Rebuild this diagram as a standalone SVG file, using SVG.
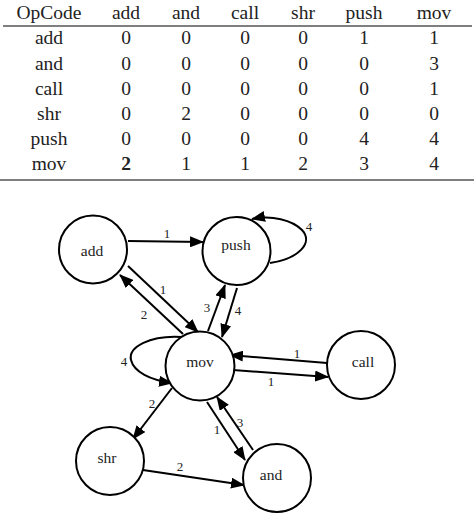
<svg xmlns="http://www.w3.org/2000/svg" width="474" height="514" viewBox="0 0 474 514">
<defs>
<marker id="ah" markerUnits="userSpaceOnUse" markerWidth="14" markerHeight="11" refX="13" refY="5.5" orient="auto" viewBox="0 0 14 11">
<path d="M0,0 L14,5.5 L0,11 z" fill="#000"/>
</marker>
</defs>
<rect width="474" height="514" fill="#fff"/>
<g id="table">
<line x1="3" y1="26" x2="472" y2="26" stroke="#555" stroke-width="1.5"/>
<line x1="0" y1="180" x2="474" y2="180" stroke="#555" stroke-width="1.5"/>
<text font-family="Liberation Serif" font-size="19.5" fill="#222" text-anchor="middle" x="49" y="19">OpCode</text>
<text font-family="Liberation Serif" font-size="19.5" fill="#222" text-anchor="middle" x="126" y="19">add</text>
<text font-family="Liberation Serif" font-size="19.5" fill="#222" text-anchor="middle" x="186" y="19">and</text>
<text font-family="Liberation Serif" font-size="19.5" fill="#222" text-anchor="middle" x="245" y="19">call</text>
<text font-family="Liberation Serif" font-size="19.5" fill="#222" text-anchor="middle" x="303" y="19">shr</text>
<text font-family="Liberation Serif" font-size="19.5" fill="#222" text-anchor="middle" x="364" y="19">push</text>
<text font-family="Liberation Serif" font-size="19.5" fill="#222" text-anchor="middle" x="434" y="19">mov</text>
<text font-family="Liberation Serif" font-size="19.5" fill="#222" text-anchor="middle" x="49" y="44">add</text>
<text font-family="Liberation Serif" font-size="19.5" fill="#222" text-anchor="middle" x="126" y="44">0</text>
<text font-family="Liberation Serif" font-size="19.5" fill="#222" text-anchor="middle" x="186" y="44">0</text>
<text font-family="Liberation Serif" font-size="19.5" fill="#222" text-anchor="middle" x="245" y="44">0</text>
<text font-family="Liberation Serif" font-size="19.5" fill="#222" text-anchor="middle" x="303" y="44">0</text>
<text font-family="Liberation Serif" font-size="19.5" fill="#222" text-anchor="middle" x="364" y="44">1</text>
<text font-family="Liberation Serif" font-size="19.5" fill="#222" text-anchor="middle" x="434" y="44">1</text>
<text font-family="Liberation Serif" font-size="19.5" fill="#222" text-anchor="middle" x="49" y="69.5">and</text>
<text font-family="Liberation Serif" font-size="19.5" fill="#222" text-anchor="middle" x="126" y="69.5">0</text>
<text font-family="Liberation Serif" font-size="19.5" fill="#222" text-anchor="middle" x="186" y="69.5">0</text>
<text font-family="Liberation Serif" font-size="19.5" fill="#222" text-anchor="middle" x="245" y="69.5">0</text>
<text font-family="Liberation Serif" font-size="19.5" fill="#222" text-anchor="middle" x="303" y="69.5">0</text>
<text font-family="Liberation Serif" font-size="19.5" fill="#222" text-anchor="middle" x="364" y="69.5">0</text>
<text font-family="Liberation Serif" font-size="19.5" fill="#222" text-anchor="middle" x="434" y="69.5">3</text>
<text font-family="Liberation Serif" font-size="19.5" fill="#222" text-anchor="middle" x="49" y="94.5">call</text>
<text font-family="Liberation Serif" font-size="19.5" fill="#222" text-anchor="middle" x="126" y="94.5">0</text>
<text font-family="Liberation Serif" font-size="19.5" fill="#222" text-anchor="middle" x="186" y="94.5">0</text>
<text font-family="Liberation Serif" font-size="19.5" fill="#222" text-anchor="middle" x="245" y="94.5">0</text>
<text font-family="Liberation Serif" font-size="19.5" fill="#222" text-anchor="middle" x="303" y="94.5">0</text>
<text font-family="Liberation Serif" font-size="19.5" fill="#222" text-anchor="middle" x="364" y="94.5">0</text>
<text font-family="Liberation Serif" font-size="19.5" fill="#222" text-anchor="middle" x="434" y="94.5">1</text>
<text font-family="Liberation Serif" font-size="19.5" fill="#222" text-anchor="middle" x="49" y="120">shr</text>
<text font-family="Liberation Serif" font-size="19.5" fill="#222" text-anchor="middle" x="126" y="120">0</text>
<text font-family="Liberation Serif" font-size="19.5" fill="#222" text-anchor="middle" x="186" y="120">2</text>
<text font-family="Liberation Serif" font-size="19.5" fill="#222" text-anchor="middle" x="245" y="120">0</text>
<text font-family="Liberation Serif" font-size="19.5" fill="#222" text-anchor="middle" x="303" y="120">0</text>
<text font-family="Liberation Serif" font-size="19.5" fill="#222" text-anchor="middle" x="364" y="120">0</text>
<text font-family="Liberation Serif" font-size="19.5" fill="#222" text-anchor="middle" x="434" y="120">0</text>
<text font-family="Liberation Serif" font-size="19.5" fill="#222" text-anchor="middle" x="49" y="145">push</text>
<text font-family="Liberation Serif" font-size="19.5" fill="#222" text-anchor="middle" x="126" y="145">0</text>
<text font-family="Liberation Serif" font-size="19.5" fill="#222" text-anchor="middle" x="186" y="145">0</text>
<text font-family="Liberation Serif" font-size="19.5" fill="#222" text-anchor="middle" x="245" y="145">0</text>
<text font-family="Liberation Serif" font-size="19.5" fill="#222" text-anchor="middle" x="303" y="145">0</text>
<text font-family="Liberation Serif" font-size="19.5" fill="#222" text-anchor="middle" x="364" y="145">4</text>
<text font-family="Liberation Serif" font-size="19.5" fill="#222" text-anchor="middle" x="434" y="145">4</text>
<text font-family="Liberation Serif" font-size="19.5" fill="#222" text-anchor="middle" x="49" y="170">mov</text>
<text font-family="Liberation Serif" font-size="19.5" fill="#222" text-anchor="middle" x="126" y="170" font-weight="bold">2</text>
<text font-family="Liberation Serif" font-size="19.5" fill="#222" text-anchor="middle" x="186" y="170">1</text>
<text font-family="Liberation Serif" font-size="19.5" fill="#222" text-anchor="middle" x="245" y="170">1</text>
<text font-family="Liberation Serif" font-size="19.5" fill="#222" text-anchor="middle" x="303" y="170">2</text>
<text font-family="Liberation Serif" font-size="19.5" fill="#222" text-anchor="middle" x="364" y="170">3</text>
<text font-family="Liberation Serif" font-size="19.5" fill="#222" text-anchor="middle" x="434" y="170">4</text>
</g>
<g id="connectors">
<g fill="none" stroke="#000" stroke-width="2" marker-end="url(#ah)">
<line x1="128" y1="241" x2="203" y2="242"/>
<path d="M270,263 C298,259 314,243 302,230 C292,220 272,215 252,219"/>
<line x1="183" y1="334" x2="120" y2="275"/>
<line x1="128" y1="266" x2="198" y2="332"/>
<line x1="208" y1="331" x2="225" y2="285"/>
<line x1="237" y1="288" x2="222" y2="337"/>
<path d="M182,337 C150,335 128,347 131,360 C134,372 150,380 172,383"/>
<line x1="327" y1="363" x2="230" y2="355"/>
<line x1="233" y1="370" x2="328" y2="377"/>
<line x1="172" y1="388" x2="133" y2="439"/>
<line x1="207" y1="402" x2="245" y2="460"/>
<line x1="253" y1="450" x2="217" y2="397"/>
<line x1="143" y1="470" x2="244" y2="485"/>
</g>
<text font-family="Liberation Serif" font-size="13" fill="#222" text-anchor="middle" x="167" y="237.5">1</text>
<text font-family="Liberation Serif" font-size="13" fill="#222" text-anchor="middle" x="309" y="230.5">4</text>
<text font-family="Liberation Serif" font-size="13" fill="#222" text-anchor="middle" x="144" y="318.5">2</text>
<text font-family="Liberation Serif" font-size="13" fill="#222" text-anchor="middle" x="163" y="293.5">1</text>
<text font-family="Liberation Serif" font-size="13" fill="#222" text-anchor="middle" x="207" y="311.5">3</text>
<text font-family="Liberation Serif" font-size="13" fill="#222" text-anchor="middle" x="238" y="314.5">4</text>
<text font-family="Liberation Serif" font-size="13" fill="#222" text-anchor="middle" x="124" y="365.5">4</text>
<text font-family="Liberation Serif" font-size="13" fill="#222" text-anchor="middle" x="297" y="357.5">1</text>
<text font-family="Liberation Serif" font-size="13" fill="#222" text-anchor="middle" x="271" y="385.5">1</text>
<text font-family="Liberation Serif" font-size="13" fill="#222" text-anchor="middle" x="152" y="407.5">2</text>
<text font-family="Liberation Serif" font-size="13" fill="#222" text-anchor="middle" x="217" y="433.5">1</text>
<text font-family="Liberation Serif" font-size="13" fill="#222" text-anchor="middle" x="240" y="426.5">3</text>
<text font-family="Liberation Serif" font-size="13" fill="#222" text-anchor="middle" x="180" y="470.5">2</text>
</g>
<g id="node-add"><circle cx="93" cy="249.5" r="34" fill="#fff" stroke="#000" stroke-width="2"/><text font-family="Liberation Serif" font-size="15.5" text-anchor="middle" x="92" y="256" fill="#222">add</text></g>
<g id="node-push"><circle cx="236.5" cy="251" r="34" fill="#fff" stroke="#000" stroke-width="2"/><text font-family="Liberation Serif" font-size="15.5" text-anchor="middle" x="236" y="250" fill="#222">push</text></g>
<g id="node-mov"><circle cx="200" cy="366" r="34.5" fill="#fff" stroke="#000" stroke-width="2"/><text font-family="Liberation Serif" font-size="15.5" text-anchor="middle" x="200" y="367" fill="#222">mov</text></g>
<g id="node-call"><circle cx="361" cy="365" r="34" fill="#fff" stroke="#000" stroke-width="2"/><text font-family="Liberation Serif" font-size="15.5" text-anchor="middle" x="363" y="367" fill="#222">call</text></g>
<g id="node-shr"><circle cx="110" cy="461" r="34" fill="#fff" stroke="#000" stroke-width="2"/><text font-family="Liberation Serif" font-size="15.5" text-anchor="middle" x="107" y="463" fill="#222">shr</text></g>
<g id="node-and"><circle cx="277" cy="478" r="34" fill="#fff" stroke="#000" stroke-width="2"/><text font-family="Liberation Serif" font-size="15.5" text-anchor="middle" x="271" y="480" fill="#222">and</text></g>
</svg>
